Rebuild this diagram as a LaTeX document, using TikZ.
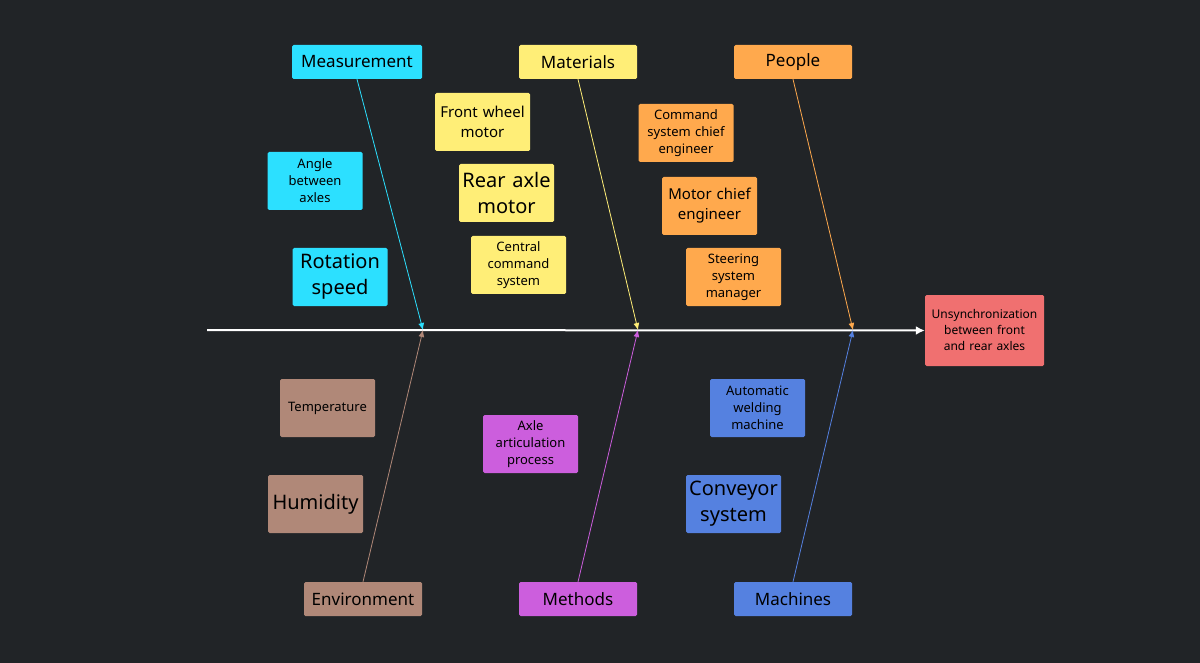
\documentclass[tikz,border=0pt]{standalone}
\usepackage{fontspec}
\setmainfont{Noto Sans}
\usetikzlibrary{arrows.meta}
\definecolor{bg}{HTML}{212427}
\definecolor{cyanc}{HTML}{2CE0FF}
\definecolor{yelc}{HTML}{FFEE77}
\definecolor{orac}{HTML}{FFA94D}
\definecolor{broc}{HTML}{B08878}
\definecolor{purc}{HTML}{CC5EDD}
\definecolor{bluc}{HTML}{5581E0}
\definecolor{redc}{HTML}{F07070}
\begin{document}
\begin{tikzpicture}[x=1pt,y=-1pt,
  box/.style={rounded corners=1.5pt,inner sep=0pt,align=center,text=black},
  cat/.style={box,minimum width=118pt,minimum height=34pt,font=\fontsize{17}{20}\selectfont},
  cause/.style={box,minimum width=95pt,minimum height=58pt,text width=90pt},
  sm/.style={font=\fontsize{13}{17}\selectfont},
  md/.style={font=\fontsize{15}{20}\selectfont},
  lg/.style={font=\fontsize{20}{26}\selectfont},
  bone/.style={-{Latex[length=7pt,width=6pt]},line width=0.8pt}]
\fill[bg] (0,0) rectangle (1200,663);
\useasboundingbox (0,0) rectangle (1200,663);
% effect
\node[box,fill=redc,minimum width=119pt,minimum height=71pt,text width=115pt,font=\fontsize{12}{16}\selectfont] (eff) at (984.5,330.5) {Unsynchronization between front and rear axles};
\coordinate (s0) at (207,330);
\draw[line width=2pt,white,-{Latex[length=9pt,width=9pt]}] (s0) -- (eff.west);
% categories
\node[cat,fill=cyanc,minimum width=130pt] (mea) at (357,62) {Measurement};
\node[cat,fill=yelc] (mat) at (578,62) {Materials};
\node[cat,fill=orac] (peo) at (793,62) {People};
\node[cat,fill=broc] (env) at (363,599) {Environment};
\node[cat,fill=purc] (met) at (578,599) {Methods};
\node[cat,fill=bluc] (mac) at (793,599) {Machines};
\coordinate (j1) at (423,330);
\coordinate (j2) at (638,330);
\coordinate (j3) at (853,330);
\draw[bone,cyanc] (mea.south) -- (j1);
\draw[bone,yelc] (mat.south) -- (j2);
\draw[bone,orac] (peo.south) -- (j3);
\draw[bone,broc] (env.north) -- (j1);
\draw[bone,purc] (met.north) -- (j2);
\draw[bone,bluc] (mac.north) -- (j3);
% causes
\node[cause,sm,fill=cyanc] (c1) at (315,181) {Angle\\between\\axles};
\node[cause,lg,fill=cyanc] (c2) at (340,277) {Rotation\\speed};
\node[cause,md,fill=yelc] (c3) at (482.5,122) {Front wheel\\motor};
\node[cause,lg,fill=yelc] (c4) at (506.5,193) {Rear axle\\motor};
\node[cause,sm,fill=yelc] (c5) at (518.5,265) {Central\\command\\system};
\node[cause,sm,fill=orac] (c6) at (686,133) {Command\\system chief\\engineer};
\node[cause,md,fill=orac] (c7) at (709.5,206) {Motor chief\\engineer};
\node[cause,sm,fill=orac] (c8) at (733.5,277) {Steering\\system\\manager};
\node[cause,sm,fill=broc] (c9) at (327.5,408) {Temperature};
\node[cause,lg,fill=broc] (c10) at (315.5,504) {Humidity};
\node[cause,sm,fill=purc] (c11) at (530.5,444) {Axle\\articulation\\process};
\node[cause,sm,fill=bluc] (c12) at (757.5,408) {Automatic\\welding\\machine};
\node[cause,lg,fill=bluc] (c13) at (733.5,504) {Conveyor\\system};
\end{tikzpicture}
\end{document}
